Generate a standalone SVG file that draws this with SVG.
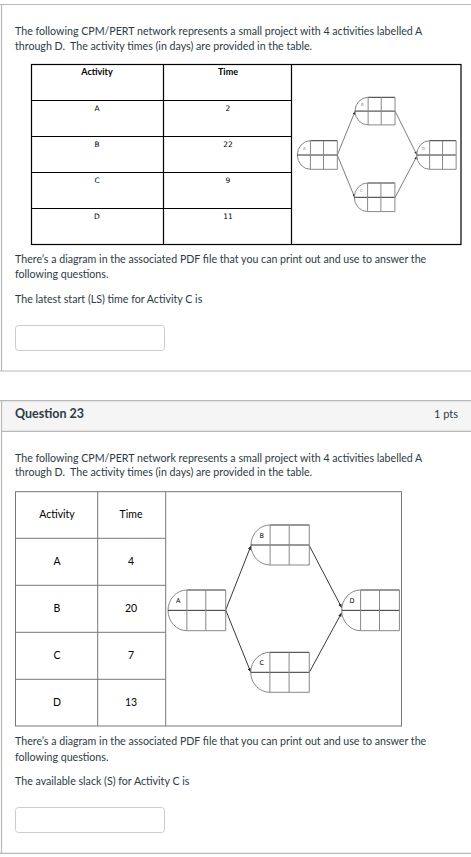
<svg xmlns="http://www.w3.org/2000/svg" xmlns:xlink="http://www.w3.org/1999/xlink" width="471" height="857" viewBox="0 0 471 857">
<style>
.t{font-family:Lato,"Liberation Sans",sans-serif;font-size:10.65px;fill:#2d3b45}
.hd{font-family:Lato,"Liberation Sans",sans-serif;font-size:12.5px;font-weight:bold;fill:#2d3b45}
.pts{font-family:Lato,"Liberation Sans",sans-serif;font-size:11px;fill:#2d3b45}
.tb1{font-family:Lato,"Liberation Sans",sans-serif;font-size:9px;font-weight:bold;fill:#000}
.tc1{font-family:"DejaVu Sans",sans-serif;font-size:7.5px;fill:#000}
.tc2{font-family:Lato,"Liberation Sans",sans-serif;font-size:10.5px;fill:#000}
.nl1{font-family:"DejaVu Sans",sans-serif;font-size:4px;fill:#888}
.nl2{font-family:"DejaVu Sans",sans-serif;font-size:6.5px;fill:#000}
.panel{fill:none;stroke:#b8b8b8;stroke-width:1.2}
.inp{fill:#fff;stroke:#c7cdd1;stroke-width:1}
.conn1{fill:none;stroke:#444;stroke-width:0.7}
.conn2{fill:none;stroke:#222;stroke-width:0.9}
.arc{fill:none;stroke:#888;vector-effect:non-scaling-stroke}
.gd{fill:none;stroke:#333;vector-effect:non-scaling-stroke}
.gl{fill:none;stroke:#888;vector-effect:non-scaling-stroke}
</style>
<defs>
<marker id="ah" viewBox="0 0 10 10" refX="10" refY="5" markerWidth="4" markerHeight="4" orient="auto" markerUnits="userSpaceOnUse">
<path d="M0,1 L10,5 L0,9 z" fill="#222"/>
</marker>
<marker id="ah1" viewBox="0 0 10 10" refX="10" refY="5" markerWidth="3" markerHeight="3" orient="auto" markerUnits="userSpaceOnUse">
<path d="M0,1 L10,5 L0,9 z" fill="#333"/>
</marker>
<g id="nshape">
<path class="arc" d="M19,0 A19,20 0 0 0 0,20 A19,20 0 0 0 19,40"/>
<path class="gd" d="M19,0 H58 M0,20 H58"/>
<path class="gl" d="M19,40 H58 M19,0 V40 M38,0 V40 M58,0 V40"/>
</g>
</defs>

<!-- Panel 1 -->
<g id="panel1">
<path class="panel" d="M0,4.5 H471 M1.5,4.5 V371 M0,371 H471"/>
<text class="t" x="15" y="35">The following CPM/PERT network represents a small project with 4 activities labelled A</text>
<text class="t" x="15" y="50" xml:space="preserve">through D.  The activity times (in days) are provided in the table.</text>
</g>

<g id="table1">
<rect x="31.5" y="64.5" width="429.5" height="180" fill="#fff" stroke="#000" stroke-width="1.2"/>
<path d="M163.5,64.5 V244.5 M291.5,64.5 V244.5 M31.5,100.5 H291.5 M31.5,136.5 H291.5 M31.5,172.5 H291.5 M31.5,208.5 H291.5" stroke="#000" stroke-width="1.2" fill="none"/>
<text class="tb1" x="97" y="75" text-anchor="middle">Activity</text>
<text class="tb1" x="228" y="75" text-anchor="middle">Time</text>
<text class="tc1" x="97" y="111" text-anchor="middle">A</text>
<text class="tc1" x="228" y="111" text-anchor="middle">2</text>
<text class="tc1" x="97" y="147" text-anchor="middle">B</text>
<text class="tc1" x="228" y="147" text-anchor="middle">22</text>
<text class="tc1" x="97" y="183" text-anchor="middle">C</text>
<text class="tc1" x="228" y="183" text-anchor="middle">9</text>
<text class="tc1" x="97" y="219" text-anchor="middle">D</text>
<text class="tc1" x="228" y="219" text-anchor="middle">11</text>
</g>

<g id="net1-connectors">
<line class="conn1" x1="337.3" y1="155" x2="355" y2="111.5" marker-end="url(#ah1)"/>
<line class="conn1" x1="337.3" y1="155" x2="354.5" y2="197" marker-end="url(#ah1)"/>
<line class="conn1" x1="395" y1="111" x2="416.7" y2="154.5" marker-end="url(#ah1)"/>
<line class="conn1" x1="395" y1="197.5" x2="416.7" y2="156.5" marker-end="url(#ah1)"/>
</g>
<g id="net1-A">
<use xlink:href="#nshape" transform="translate(297.3,140.7) scale(0.69,0.715)"/>
<text class="nl1" x="303" y="149.5">A</text>
</g>
<g id="net1-B">
<use xlink:href="#nshape" transform="translate(355,97.3) scale(0.69,0.69)"/>
<text class="nl1" x="361" y="105.5">B</text>
</g>
<g id="net1-C">
<use xlink:href="#nshape" transform="translate(354.3,183) scale(0.7,0.715)"/>
<text class="nl1" x="360" y="191.5">C</text>
</g>
<g id="net1-D">
<use xlink:href="#nshape" transform="translate(416.7,140.7) scale(0.68,0.715)"/>
<text class="nl1" x="422" y="149.5">D</text>
</g>

<g id="panel1-tail">
<text class="t" x="15" y="263.3">There’s a diagram in the associated PDF file that you can print out and use to answer the</text>
<text class="t" x="15" y="278.3">following questions.</text>
<text class="t" x="15" y="303.3">The latest start (LS) time for Activity C is</text>
<rect class="inp" x="15.5" y="325.5" width="149" height="25" rx="3"/>
</g>

<!-- Panel 2 -->
<g id="panel2">
<rect x="1.5" y="400.7" width="471" height="30.6" fill="#f5f5f5" stroke="none"/>
<path class="panel" d="M0,400.7 H471 M1.5,400.7 V853.3 M0,853.3 H471 M1.5,431.3 H471"/>
<text class="hd" x="15" y="418.3">Question 23</text>
<text class="pts" x="458" y="418.3" text-anchor="end">1 pts</text>
<text class="t" x="15" y="461.7">The following CPM/PERT network represents a small project with 4 activities labelled A</text>
<text class="t" x="15" y="476" xml:space="preserve">through D.  The activity times (in days) are provided in the table.</text>
</g>

<g id="table2">
<rect x="15.5" y="491.7" width="386" height="234.3" fill="#fff" stroke="#777" stroke-width="1"/>
<path d="M97.7,491.7 V726 M165.7,491.7 V726 M15.5,538.3 H165.7 M15.5,585.3 H165.7 M15.5,632.3 H165.7 M15.5,679.3 H165.7" stroke="#777" stroke-width="1" fill="none"/>
<text class="tc2" x="57" y="518" text-anchor="middle">Activity</text>
<text class="tc2" x="131" y="518" text-anchor="middle">Time</text>
<text class="tc2" x="57" y="565" text-anchor="middle">A</text>
<text class="tc2" x="131" y="565" text-anchor="middle">4</text>
<text class="tc2" x="57" y="612" text-anchor="middle">B</text>
<text class="tc2" x="131" y="612" text-anchor="middle">20</text>
<text class="tc2" x="57" y="659" text-anchor="middle">C</text>
<text class="tc2" x="131" y="659" text-anchor="middle">7</text>
<text class="tc2" x="57" y="706" text-anchor="middle">D</text>
<text class="tc2" x="131" y="706" text-anchor="middle">13</text>
</g>

<g id="net2-connectors">
<line class="conn2" x1="225.7" y1="610" x2="251" y2="545.7" marker-end="url(#ah)"/>
<line class="conn2" x1="225.7" y1="610" x2="250.7" y2="672" marker-end="url(#ah)"/>
<line class="conn2" x1="309.3" y1="545.7" x2="341.7" y2="607.7" marker-end="url(#ah)"/>
<line class="conn2" x1="309.3" y1="672.3" x2="341.7" y2="612.7" marker-end="url(#ah)"/>
</g>
<g id="net2-A">
<use xlink:href="#nshape" transform="translate(168,590) scale(0.995,1.0175)"/>
<text class="nl2" x="176" y="603">A</text>
</g>
<g id="net2-B">
<use xlink:href="#nshape" transform="translate(251,525) scale(1.005,1)"/>
<text class="nl2" x="259.5" y="538">B</text>
</g>
<g id="net2-C">
<use xlink:href="#nshape" transform="translate(250.7,652.3) scale(1.01,1)"/>
<text class="nl2" x="259.5" y="665">C</text>
</g>
<g id="net2-D">
<use xlink:href="#nshape" transform="translate(341.7,590) scale(0.995,1.0175)"/>
<text class="nl2" x="349.5" y="603">D</text>
</g>

<g id="panel2-tail">
<text class="t" x="15" y="745">There’s a diagram in the associated PDF file that you can print out and use to answer the</text>
<text class="t" x="15" y="760.7">following questions.</text>
<text class="t" x="15" y="785">The available slack (S) for Activity C is</text>
<rect class="inp" x="15.5" y="807.5" width="149" height="25" rx="3"/>
</g>
</svg>
